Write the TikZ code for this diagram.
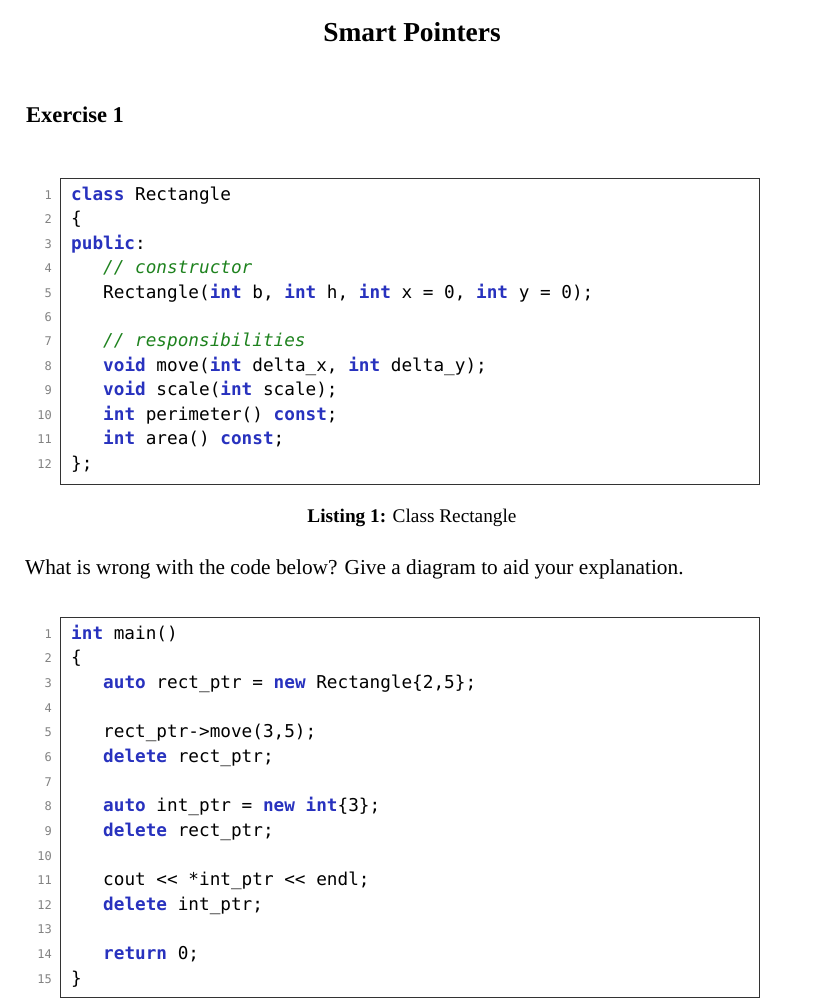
\documentclass[tikz,border=0pt]{standalone}
\usepackage{fontspec}
\setmainfont{Liberation Serif}
\newfontfamily\codefont{DejaVu Sans Mono}
\definecolor{kwblue}{RGB}{40,50,190}
\definecolor{cmgreen}{RGB}{30,130,30}
\definecolor{lngray}{RGB}{130,130,130}
\newcommand{\kw}[1]{{\bfseries\color{kwblue}#1}}
\newcommand{\cm}[1]{{\itshape\color{cmgreen}#1}}
\tikzset{
 code/.style={anchor=mid west,inner sep=0pt,font=\codefont\fontsize{17.7}{20}\selectfont},
 lnum/.style={anchor=mid east,inner sep=0pt,text=lngray,font=\codefont\fontsize{12}{14}\selectfont},
 frame/.style={draw=black!80,line width=0.8pt},
}
\begin{document}
\begin{tikzpicture}[x=1pt,y=-1pt]
\useasboundingbox (0,0) rectangle (820,1001);
\node[font=\fontsize{27.4}{30}\selectfont\bfseries] (title) at (412,32) {Smart Pointers};
\node[anchor=west,inner sep=0pt,font=\fontsize{22.5}{26}\selectfont\bfseries] (ex) at (26,115) {Exercise 1};
% listing 1
\draw[frame] (60,178) rectangle (759,484);
\foreach \i in {1,...,12} \node[lnum] (a\i) at (52,{197+24.45*(\i-1)}) {\i};
\def\ya#1{{198+24.45*(#1-1)}}
\node[code] (l1) at (71,\ya{1}) {\kw{class} Rectangle};
\node[code] (l2) at (71,\ya{2}) {\{};
\node[code] (l3) at (71,\ya{3}) {\kw{public}:};
\node[code] (l4) at (103,\ya{4}) {\cm{// constructor}};
\node[code] (l5) at (103,\ya{5}) {Rectangle(\kw{int} b, \kw{int} h, \kw{int} x = 0, \kw{int} y = 0);};
\node[code] (l7) at (103,\ya{7}) {\cm{// responsibilities}};
\node[code] (l8) at (103,\ya{8}) {\kw{void} move(\kw{int} delta\_x, \kw{int} delta\_y);};
\node[code] (l9) at (103,\ya{9}) {\kw{void} scale(\kw{int} scale);};
\node[code] (l10) at (103,\ya{10}) {\kw{int} perimeter() \kw{const};};
\node[code] (l11) at (103,\ya{11}) {\kw{int} area() \kw{const};};
\node[code] (l12) at (71,\ya{12}) {\};};
\node[font=\fontsize{19.3}{22}\selectfont] (cap) at (412,518) {\textbf{Listing 1:} Class Rectangle};
\node[anchor=west,inner sep=0pt,font=\fontsize{21.3}{25}\selectfont] (q) at (25,569) {What is wrong with the code below? Give a diagram to aid your explanation.};
% listing 2
\draw[frame] (60,617) rectangle (759,997);
\foreach \i in {1,...,15} \node[lnum] (b\i) at (52,{636+24.64*(\i-1)}) {\i};
\def\yb#1{{637+24.64*(#1-1)}}
\node[code] (m1) at (71,\yb{1}) {\kw{int} main()};
\node[code] (m2) at (71,\yb{2}) {\{};
\node[code] (m3) at (103,\yb{3}) {\kw{auto} rect\_ptr = \kw{new} Rectangle\{2,5\};};
\node[code] (m5) at (103,\yb{5}) {rect\_ptr->move(3,5);};
\node[code] (m6) at (103,\yb{6}) {\kw{delete} rect\_ptr;};
\node[code] (m8) at (103,\yb{8}) {\kw{auto} int\_ptr = \kw{new} \kw{int}\{3\};};
\node[code] (m9) at (103,\yb{9}) {\kw{delete} rect\_ptr;};
\node[code] (m11) at (103,\yb{11}) {cout << *int\_ptr << endl;};
\node[code] (m12) at (103,\yb{12}) {\kw{delete} int\_ptr;};
\node[code] (m14) at (103,\yb{14}) {\kw{return} 0;};
\node[code] (m15) at (71,\yb{15}) {\}};
\end{tikzpicture}
\end{document}
